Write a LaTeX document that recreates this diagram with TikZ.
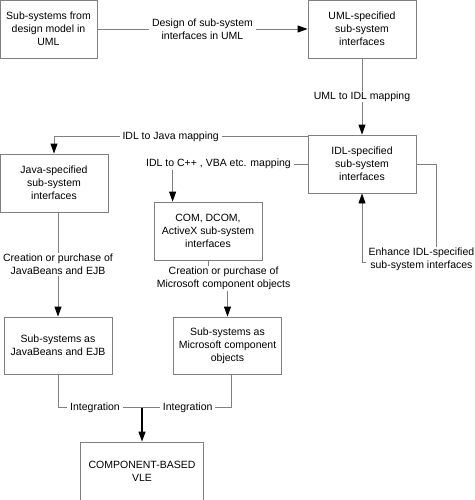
\documentclass[tikz,border=0pt]{standalone}
\usepackage{fontspec}
\setmainfont{Liberation Sans}
\usetikzlibrary{arrows.meta,positioning}
\definecolor{LineGray}{gray}{0.5}
\tikzset{
	box/.style={
		draw=LineGray, line width=0.8pt, align=center, %plain boxes
		minimum width=108pt, minimum height=58pt, inner sep=0pt},
	link/.style={draw=LineGray, line width=0.8pt},
	conn/.style={link, -{Triangle[width=7pt,length=10pt,color=black]}},
	lbl/.style={fill=white, align=center, inner xsep=3pt, inner ysep=1pt}
}

\begin{document}
\begin{tikzpicture}[x=1pt,y=-1pt,font=\fontsize{10.5}{13}\selectfont]
	\useasboundingbox (0,0) rectangle (474,500);
	\clip (0,0) rectangle (474,500);
	% boxes
	\node[box,minimum width=97pt] (uml) at (48.5,29) {Sub-systems from\\design model in\\UML};
	\node[box] (umlif) at (362,29) {UML-specified\\sub-system\\interfaces};
	\node[box] (idlif) at (362,164) {IDL-specified\\sub-system\\interfaces};
	\node[box] (javaif) at (54,183) {Java-specified\\sub-system\\interfaces};
	\node[box] (comif) at (208,231) {COM, DCOM,\\ActiveX sub-system\\interfaces};
	\node[box,minimum height=57pt] (javass) at (58,345.5) {Sub-systems as\\JavaBeans and EJB};
	\node[box,minimum height=57pt] (msss) at (227.5,345.5) {Sub-systems as\\Microsoft component\\objects};
	\node[box,minimum width=123pt] (vle) at (142,471) {COMPONENT-BASED\\VLE};
	% mappings
	\draw[conn] (uml) -- node[lbl] {Design of sub-system\\interfaces in UML} (umlif);
	\draw[conn] (umlif) -- node[lbl] {UML to IDL mapping} (idlif);
	\draw[conn] ([yshift=-2pt]idlif.north west) -| node[lbl,pos=0.27] {IDL to Java mapping} (javaif.north);
	\draw[conn] (idlif.west) -| node[lbl,pos=0.33] {IDL to C++ , VBA etc. mapping} ([xshift=19pt]comif.north west);
	\draw[conn] (idlif.east) -- ++(20,0) -- ++(0,98) coordinate (enh) -| (idlif.south);
	\node[lbl] (enhlbl) at ([shift={(-15,-3)}]enh) {Enhance IDL-specified\\sub-system interfaces};
	% components
	\draw[conn] (javass.north |- javaif.south) -- node[lbl] {Creation or purchase of\\JavaBeans and EJB} (javass.north);
	\draw[conn] (comif.south) -- ++(0,18) -| node[lbl,pos=0.4] {Creation or purchase of\\Microsoft component objects} (msss.north);
	% integration
	\coordinate (merge) at ([yshift=34pt]vle.north);
	\draw[link] (javass.south) |- node[lbl,pos=0.72] {Integration} (merge);
	\draw[link] ([xshift=4pt]msss.south) |- node[lbl,pos=0.745] {Integration} (merge);
	\draw[conn,draw=black,line width=1.2pt] (merge) -- (vle);
\end{tikzpicture}
\end{document}
